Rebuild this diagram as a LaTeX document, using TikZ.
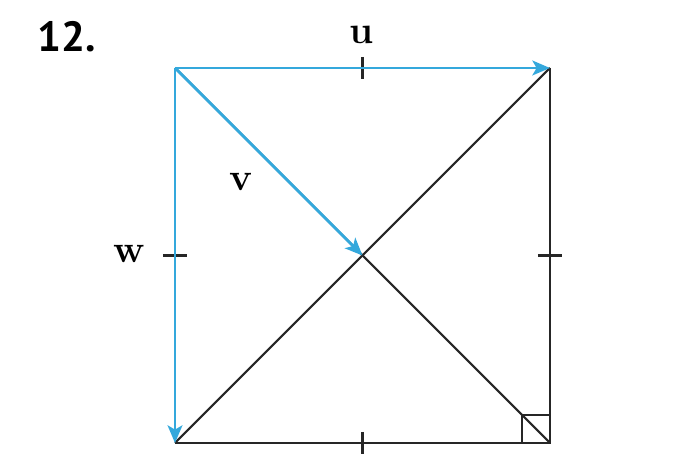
\documentclass[tikz,border=0pt]{standalone}
\usepackage{fontspec}
\newfontfamily\numfont{PT Sans}
\usetikzlibrary{arrows.meta,calc}
\definecolor{vecblue}{RGB}{52,168,220}
\begin{document}
\begin{tikzpicture}[x=0.01cm,y=-0.01cm,
	edge/.style={line width=0.6pt,black!85},
	vec/.style={line width=0.8pt,vecblue,-{Stealth[length=5pt,width=4.2pt,inset=1.2pt]}},
	ticks/.style={line width=0.6pt,black!85},
	lbl/.style={font=\bfseries\fontsize{11}{11}\selectfont}]
	\useasboundingbox (0,0) rectangle (696,474);

	\coordinate (tl) at (175,68); % corners of the square
	\coordinate (tr) at (550,68);
	\coordinate (bl) at (175,443);
	\coordinate (br) at (550,443);
	\coordinate (ctr) at (362.5,255.5); % crossing of the diagonals

	\draw[edge] (bl) -- (tr); % diagonals
	\draw[edge] (tl) -- (br);
	\draw[edge] (tr) -- (br) -- (bl); % right and bottom sides
	\draw[edge] (br) ++(-28,0) -- ++(0,-28) -- ++(28,0); % right angle mark

	% equal side marks
	\draw[ticks] ($(tl)!0.5!(tr)$) +(0,-11) -- +(0,11);
	\draw[ticks] ($(bl)!0.5!(br)$) +(0,-11) -- +(0,11);
	\draw[ticks] ($(tl)!0.5!(bl)$) +(-12,0) -- +(12,0);
	\draw[ticks] ($(tr)!0.5!(br)$) +(-12,0) -- +(12,0);

	\draw[vec] (tl) -- (tr); % u
	\draw[vec] (tl) -- (ctr); % v
	\draw[vec] (tl) -- (bl); % w

	\node[lbl] (lu) at (362,35) {u};
	\node[lbl] (lv) at (241,182) {v};
	\node[lbl] (lw) at (129,254) {w};
	\node[font=\numfont\bfseries\fontsize{12}{12}\selectfont,anchor=base west,inner sep=0pt] (num) at (37,52) {12.};
\end{tikzpicture}
\end{document}
